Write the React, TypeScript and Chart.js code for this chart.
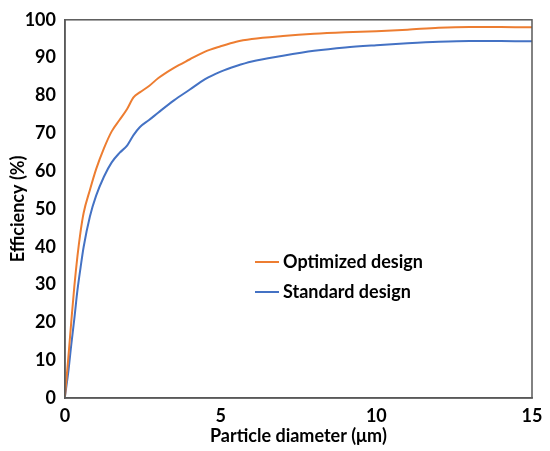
import { useEffect, useRef } from 'react';
import { Chart, registerables, Plugin } from 'chart.js';

Chart.register(...registerables);

const diameters = [0, 0.1, 0.2, 0.3, 0.4, 0.5, 0.6, 0.8, 1.0, 1.25, 1.5, 1.75, 2.0, 2.2, 2.4, 2.7, 3, 3.5, 4, 4.5, 5, 5.5, 6, 7, 8, 9, 10, 11, 12, 13, 14, 15];

const optimized = [0.5, 10, 20, 29.5, 37.5, 44, 49, 55, 60.5, 66, 70.5, 73.5, 76.5, 79.5, 80.8, 82.5, 84.6, 87.3, 89.5, 91.6, 93, 94.2, 94.9, 95.7, 96.3, 96.7, 97, 97.4, 97.9, 98.1, 98.1, 98];

const standard = [0.5, 6.5, 14, 21, 28.5, 34.5, 40, 48, 53.5, 58.5, 62.3, 64.8, 66.8, 69.5, 71.6, 73.5, 75.5, 78.7, 81.5, 84.3, 86.3, 87.8, 89, 90.5, 91.8, 92.7, 93.3, 93.8, 94.2, 94.4, 94.4, 94.3];

const seriesLabels = ['Optimized design', 'Standard design'];
const seriesColors = ['#ED7D31', '#4472C4'];

const FONT = 'Lato, "Open Sans", sans-serif';

// box around the plot area plus the legend drawn inside it
const framePlugin: Plugin = {
  id: 'frame',
  afterDraw(chart) {
    const { ctx, chartArea } = chart;
    ctx.save();
    ctx.strokeStyle = '#595959';
    ctx.lineWidth = 1.5;
    ctx.strokeRect(chartArea.left, chartArea.top, chartArea.right - chartArea.left, chartArea.bottom - chartArea.top);

    ctx.font = `bold 18px ${FONT}`;
    ctx.textBaseline = 'middle';
    ctx.fillStyle = '#000';
    seriesLabels.forEach((label, i) => {
      const y = 262 + i * 30;
      ctx.strokeStyle = seriesColors[i];
      ctx.lineWidth = 2;
      ctx.beginPath();
      ctx.moveTo(255, y);
      ctx.lineTo(279, y);
      ctx.stroke();
      ctx.fillText(label, 283, y);
    });
    ctx.restore();
  },
};

export default function App() {
  const chartRef = useRef<HTMLCanvasElement>(null);
  const chartInstance = useRef<Chart | null>(null);

  useEffect(() => {
    if (!chartRef.current) return;
    if (chartInstance.current) chartInstance.current.destroy();
    const ctx = chartRef.current.getContext('2d');
    if (!ctx) return;

    chartInstance.current = new Chart(ctx, {
      type: 'line',
      data: {
        datasets: [optimized, standard].map((vals, i) => ({
          label: seriesLabels[i],
          data: diameters.map((d, j) => ({ x: d, y: vals[j] })),
          borderColor: seriesColors[i],
          borderWidth: 2,
          pointRadius: 0,
          cubicInterpolationMode: 'monotone' as const,
          fill: false,
        })),
      },
      options: {
        animation: false,
        responsive: false,
        layout: { padding: { top: 15, right: 18, bottom: 0, left: 0 } },
        plugins: {
          legend: { display: false },
          tooltip: { enabled: false },
        },
        scales: {
          x: {
            type: 'linear',
            min: 0,
            max: 15,
            afterFit: (scale) => { scale.height = 53; },
            grid: { display: false, drawTicks: false },
            border: { display: true, color: '#595959', width: 1.5 },
            ticks: {
              stepSize: 5,
              padding: 7,
              color: '#000',
              font: { family: FONT, size: 18, weight: 'bold' },
            },
            title: {
              display: true,
              text: 'Particle diameter (μm)',
              color: '#000',
              font: { family: FONT, size: 18, weight: 'bold' },
              padding: { top: 0, bottom: 4 },
            },
          },
          y: {
            min: 0,
            max: 100,
            afterFit: (scale) => { scale.width = 65; },
            grid: { display: false, drawTicks: false },
            border: { display: true, color: '#595959', width: 1.5 },
            ticks: {
              stepSize: 10,
              padding: 9,
              color: '#000',
              font: { family: FONT, size: 18, weight: 'bold' },
            },
            title: {
              display: true,
              text: 'Efficiency (%)',
              color: '#000',
              font: { family: FONT, size: 18, weight: 'bold' },
              padding: { top: 7, bottom: 0 },
            },
          },
        },
      },
      plugins: [framePlugin],
    });

    return () => {
      if (chartInstance.current) {
        chartInstance.current.destroy();
        chartInstance.current = null;
      }
    };
  }, []);

  return (
    <div style={{ position: 'fixed', left: 0, top: 0, width: 550, height: 451, background: '#fff' }}>
      <canvas ref={chartRef} width={550} height={451} style={{ width: 550, height: 451 }}></canvas>
    </div>
  );
}
